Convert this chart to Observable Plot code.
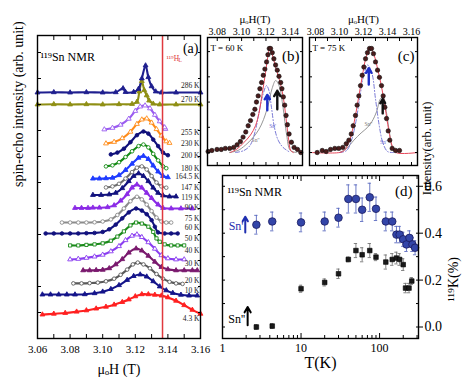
<!DOCTYPE html>
<html><head><meta charset="utf-8">
<script src="https://cdn.jsdelivr.net/npm/d3@7"></script>
<script src="https://cdn.jsdelivr.net/npm/@observablehq/plot@0.6"></script>
<style>
html,body{margin:0;padding:0;background:#fff;}
#fig{position:relative;width:474px;height:389px;overflow:hidden;background:#fff;}
#fig svg{position:absolute;max-width:none;background:transparent;overflow:visible;}
</style></head><body><div id="fig"></div>
<script>
// ---------- Panel (a): 119Sn NMR spectra (field T, stacked intensity arb.) ----------
const specNames = ["286 K","270 K","255 K","230 K","200 K","180 K","164.5 K","147 K","119 K","90 K","75 K","60 K","50 K","40 K","30 K","20 K","10 K","4.3 K"];
const specLabelLevel = [9.73,9.19,7.92,7.5,7.04,6.54,6.23,5.81,5.42,5.04,4.62,4.27,3.85,3.38,2.88,2.23,1.85,0.77];
const s286 = [[3.06,9.46],[3.07,9.47],[3.08,9.46],[3.09,9.47],[3.10,9.46],[3.108,9.47],[3.1125,9.62],[3.114,9.48],[3.119,9.48],[3.122,9.6],[3.124,10.0],[3.1263,10.5],[3.128,10.05],[3.130,9.7],[3.1325,9.5],[3.136,9.46],[3.145,9.46],[3.16,9.46]];
const s270 = [[3.06,9.0],[3.07,9.01],[3.08,9.0],[3.09,9.01],[3.10,9.0],[3.11,9.01],[3.118,9.02],[3.121,9.1],[3.1225,9.5],[3.124,9.9],[3.1255,9.55],[3.127,9.35],[3.1285,9.15],[3.131,9.03],[3.135,9.0],[3.145,9.0],[3.16,9.0]];
const s255 = [[3.101,8.04],[3.106,8.1],[3.111,8.22],[3.116,8.45],[3.120,8.75],[3.123,8.92],[3.126,8.96],[3.129,8.85],[3.132,8.6],[3.135,8.35],[3.138,8.12],[3.1385,8.06]];
const s230 = [[3.102,7.5],[3.107,7.56],[3.112,7.7],[3.117,7.95],[3.121,8.25],[3.124,8.42],[3.127,8.46],[3.130,8.3],[3.133,8.05],[3.136,7.8],[3.139,7.58],[3.141,7.52]];
const s200 = [[3.105,7.08],[3.109,7.15],[3.113,7.3],[3.117,7.55],[3.121,7.82],[3.125,7.96],[3.128,7.88],[3.131,7.65],[3.134,7.4],[3.137,7.15],[3.140,7.05]];
const s180 = [[3.102,6.62],[3.106,6.66],[3.110,6.78],[3.114,6.98],[3.118,7.2],[3.122,7.4],[3.125,7.46],[3.128,7.35],[3.131,7.1],[3.134,6.85],[3.137,6.62],[3.139,6.55]];
const s164 = [[3.094,6.15],[3.098,6.15],[3.102,6.16],[3.106,6.18],[3.110,6.28],[3.114,6.48],[3.118,6.72],[3.122,6.95],[3.125,7.02],[3.128,6.9],[3.131,6.65],[3.134,6.42],[3.137,6.25],[3.140,6.2]];
const s147 = [[3.102,5.81],[3.106,5.85],[3.110,5.95],[3.114,6.15],[3.118,6.4],[3.121,6.57],[3.124,6.62],[3.127,6.5],[3.130,6.25],[3.133,6.0],[3.136,5.85],[3.139,5.8]];
const s119 = [[3.094,5.52],[3.099,5.52],[3.104,5.54],[3.108,5.6],[3.112,5.78],[3.116,6.05],[3.119,6.25],[3.122,6.35],[3.125,6.25],[3.128,6.05],[3.131,5.8],[3.134,5.6],[3.137,5.5],[3.141,5.46],[3.145,5.46]];
const s90 = [[3.083,5.02],[3.087,5.02],[3.091,5.02],[3.094,5.03],[3.098,5.03],[3.103,5.05],[3.107,5.12],[3.111,5.3],[3.115,5.55],[3.118,5.8],[3.121,5.92],[3.124,5.8],[3.127,5.6],[3.130,5.4],[3.134,5.15],[3.137,5.02],[3.142,5.0],[3.148,5.0],[3.155,5.0]];
const s75 = [[3.075,4.46],[3.080,4.46],[3.085,4.46],[3.090,4.46],[3.095,4.47],[3.100,4.5],[3.105,4.58],[3.109,4.75],[3.113,5.0],[3.117,5.28],[3.121,5.45],[3.124,5.35],[3.127,5.15],[3.130,4.9],[3.133,4.65],[3.136,4.5],[3.139,4.46],[3.142,4.46]];
const s60 = [[3.065,4.04],[3.070,4.04],[3.075,4.04],[3.080,4.04],[3.085,4.04],[3.090,4.05],[3.095,4.06],[3.100,4.1],[3.104,4.2],[3.108,4.38],[3.112,4.62],[3.116,4.85],[3.1205,5.0],[3.124,4.92],[3.127,4.78],[3.130,4.55],[3.132,4.3],[3.134,4.08],[3.138,4.04],[3.142,4.04],[3.146,4.04]];
const s50 = [[3.080,3.58],[3.085,3.58],[3.090,3.6],[3.095,3.62],[3.100,3.66],[3.105,3.76],[3.109,3.92],[3.113,4.12],[3.117,4.35],[3.1205,4.46],[3.124,4.42],[3.128,4.3],[3.131,4.1],[3.133,3.85],[3.135,3.72],[3.138,3.62],[3.142,3.58],[3.146,3.58],[3.150,3.58]];
const s40 = [[3.080,3.04],[3.085,3.06],[3.090,3.1],[3.095,3.15],[3.100,3.22],[3.105,3.35],[3.110,3.55],[3.114,3.78],[3.118,3.95],[3.121,4.0],[3.124,3.9],[3.128,3.7],[3.132,3.45],[3.136,3.2],[3.140,3.08],[3.145,3.04],[3.150,3.04]];
const s30 = [[3.088,2.62],[3.092,2.62],[3.096,2.63],[3.100,2.64],[3.104,2.7],[3.108,2.85],[3.112,3.05],[3.116,3.3],[3.1205,3.46],[3.124,3.38],[3.128,3.18],[3.132,2.95],[3.136,2.75],[3.140,2.66],[3.145,2.62],[3.150,2.62],[3.155,2.62],[3.158,2.62]];
const s20 = [[3.082,2.12],[3.087,2.12],[3.092,2.13],[3.097,2.15],[3.102,2.2],[3.107,2.3],[3.111,2.45],[3.115,2.65],[3.1185,2.85],[3.1215,2.92],[3.125,2.85],[3.129,2.7],[3.133,2.48],[3.137,2.3],[3.141,2.18],[3.145,2.12],[3.149,2.1]];
const s10 = [[3.063,1.69],[3.068,1.69],[3.073,1.69],[3.078,1.69],[3.083,1.69],[3.089,1.7],[3.095,1.74],[3.100,1.8],[3.105,1.9],[3.110,2.05],[3.115,2.25],[3.119,2.4],[3.123,2.46],[3.127,2.38],[3.131,2.2],[3.135,2.0],[3.139,1.85],[3.143,1.75],[3.148,1.68],[3.153,1.65],[3.158,1.65]];
const s4 = [[3.063,0.92],[3.070,0.95],[3.077,0.98],[3.084,1.03],[3.090,1.08],[3.096,1.15],[3.102,1.22],[3.107,1.3],[3.112,1.4],[3.116,1.5],[3.120,1.62],[3.124,1.7],[3.128,1.7],[3.132,1.68],[3.136,1.65],[3.140,1.58],[3.145,1.45],[3.150,1.28],[3.155,1.1],[3.16,0.95]];
const hLField = [3.1367];
const xTicksA = [3.06,3.08,3.10,3.12,3.14,3.16];
const xMinorA = [3.06,3.07,3.08,3.09,3.10,3.11,3.12,3.13,3.14,3.15,3.16];
const yTicksA = [1,2,3,4,5,6,7,8,9,10,11];

// ---------- Panels (b), (c): lineshape fits ----------
const b60dots = [[3.0725,-0.01],[3.0756,0.0],[3.0798,0.01],[3.0833,0.01],[3.0866,0.02],[3.0902,0.02],[3.0935,0.03],[3.0963,0.055],[3.099,0.087],[3.1012,0.13],[3.1034,0.18],[3.1054,0.24],[3.1073,0.29],[3.1092,0.35],[3.1109,0.40],[3.1122,0.47],[3.1136,0.53],[3.115,0.60],[3.1164,0.66],[3.1178,0.73],[3.1191,0.79],[3.1205,0.86],[3.1216,0.93],[3.1227,0.99],[3.1238,0.99],[3.1252,0.95],[3.1265,0.89],[3.1279,0.83],[3.1293,0.78],[3.1307,0.72],[3.1321,0.66],[3.1331,0.60],[3.1343,0.52],[3.1354,0.44],[3.1365,0.34],[3.1376,0.25],[3.139,0.16],[3.1409,0.08],[3.1431,0.03],[3.1459,0.01],[3.1486,-0.02]];
const b60fit = [[3.0907,-0.02],[3.0963,0.015],[3.1017,0.075],[3.1073,0.15],[3.1114,0.24],[3.1142,0.36],[3.1169,0.55],[3.1197,0.76],[3.1219,0.94],[3.123,0.99],[3.1252,0.93],[3.1279,0.81],[3.1307,0.70],[3.1334,0.57],[3.1354,0.42],[3.137,0.26],[3.1387,0.10],[3.1403,0.0],[3.1425,-0.02]];
const b60sn1 = [[3.095,-0.02],[3.102,0.0],[3.107,0.05],[3.111,0.18],[3.114,0.35],[3.117,0.52],[3.1205,0.63],[3.1225,0.58],[3.1245,0.42],[3.127,0.22],[3.130,0.1],[3.134,0.03],[3.140,-0.02]];
const b60sn2 = [[3.090,-0.02],[3.097,0.0],[3.103,0.05],[3.109,0.12],[3.114,0.2],[3.118,0.3],[3.122,0.45],[3.125,0.6],[3.128,0.68],[3.131,0.62],[3.134,0.42],[3.137,0.15],[3.140,0.0],[3.145,-0.02]];
const c75dots = [[3.0814,-0.02],[3.0856,0.0],[3.0889,-0.01],[3.0925,0.01],[3.0961,0.02],[3.0994,0.02],[3.1028,0.03],[3.1056,0.065],[3.1078,0.1],[3.1098,0.16],[3.1114,0.24],[3.1133,0.34],[3.1147,0.44],[3.1161,0.53],[3.1175,0.63],[3.1189,0.73],[3.1203,0.81],[3.1217,0.89],[3.1233,0.95],[3.125,0.99],[3.1267,0.99],[3.1283,0.94],[3.13,0.86],[3.1317,0.78],[3.1333,0.71],[3.135,0.63],[3.1364,0.53],[3.1378,0.42],[3.1392,0.31],[3.1406,0.19],[3.1419,0.1],[3.1439,0.02],[3.1467,0.0],[3.15,0.0]];
const c75fit = [[3.076,-0.02],[3.100,-0.02],[3.104,0.0],[3.107,0.06],[3.110,0.16],[3.113,0.32],[3.116,0.52],[3.119,0.72],[3.122,0.9],[3.1255,1.0],[3.129,0.92],[3.132,0.78],[3.135,0.62],[3.138,0.42],[3.141,0.2],[3.144,0.04],[3.147,-0.02],[3.165,-0.02]];
const c75sn1 = [[3.100,-0.02],[3.106,0.0],[3.110,0.1],[3.114,0.3],[3.117,0.52],[3.120,0.72],[3.1235,0.83],[3.127,0.75],[3.130,0.5],[3.133,0.25],[3.136,0.08],[3.140,-0.01],[3.145,-0.02]];
const c75sn2 = [[3.100,-0.02],[3.106,0.02],[3.112,0.1],[3.118,0.17],[3.123,0.22],[3.127,0.28],[3.131,0.38],[3.134,0.5],[3.1365,0.52],[3.139,0.38],[3.142,0.15],[3.145,0.0],[3.150,-0.02]];
const arrowsB = [{f:3.1211,y1:0.39,y2:0.54,kind:"Sn'"},{f:3.1293,y1:0.40,y2:0.58,kind:"Sn''"}];
const arrowsC = [{f:3.1244,y1:0.64,y2:0.80,kind:"Sn'"},{f:3.136,y1:0.36,y2:0.50,kind:"Sn''"}];
const tagsB = [{f:3.1254,u:0.24,t:"Sn'"},{f:3.1114,u:0.10,t:"Sn''"}];
const tagsC = [{f:3.1365,u:0.08,t:"Sn'"},{f:3.124,u:0.25,t:"Sn''"}];
const topTicksB = [3.08,3.10,3.12,3.14];
const minorB = [3.08,3.09,3.10,3.11,3.12,3.13,3.14];
const topTicksC = [3.08,3.10,3.12,3.14,3.16];
const minorC = [3.08,3.09,3.10,3.11,3.12,3.13,3.14,3.15,3.16];
const yTicksBC = [-0.02,0.225,0.47,0.715,0.96];

// ---------- Panel (d): Knight shift vs T ----------
const T_sn1 = [2.7,4.3,10,20,30,40,50,60,75,90,120,145,164,180,200,220,240,262,283];
const K_sn1 = [0.436,0.45,0.446,0.45,0.466,0.546,0.546,0.50,0.553,0.504,0.45,0.45,0.394,0.394,0.374,0.352,0.38,0.352,0.338];
const E_sn1 = [0.04,0.04,0.04,0.04,0.04,0.06,0.06,0.05,0.06,0.05,0.04,0.04,0.035,0.035,0.03,0.03,0.03,0.03,0.03];
const T_sn2 = [2.7,4.3,10,20,30,40,50,60,75,90,120,145,164,180,200,214,237,257];
const K_sn2 = [0.0,0.004,0.163,0.19,0.227,0.288,0.326,0.308,0.326,0.298,0.277,0.288,0.294,0.288,0.266,0.166,0.166,0.196];
const E_sn2 = [0.01,0.01,0.015,0.015,0.02,0.01,0.03,0.03,0.03,0.015,0.03,0.025,0.025,0.025,0.025,0.02,0.02,0.015];
const xMajorD = [1,10,100];
const xMinorD = [2,3,4,5,6,7,8,9,20,30,40,50,60,70,80,90,200,300];
const yTicksD = [0,0.2,0.4,0.6];
const yMinorD = [0,0.1,0.2,0.3,0.4,0.5,0.6];
const arrowsD = [{T:1.95,y1:0.403,y2:0.47,kind:"Sn'"},{T:2.09,y1:0.007,y2:0.085,kind:"Sn''"}];
const tagsD = [{T:1.85,K:0.43,t:"Sn'"},{T:1.95,K:0.032,t:"Sn''"}];

// ---------- styles ----------
const serif = '"Liberation Serif","Times New Roman",serif';
const specColors = ["#1f1f8f","#8f8f14","#9a5cf0","#ff8c1a","#10107a","#138a13","#1f3cff","#6e6e6e","#12127e","#8b2be6","#8c8c8c","#12127e","#1a8a1a","#8a3df0","#7a1a6e","#5a5a5a","#14148a","#ff2020"];
const specSymbols = ["triangle","triangle","triangle","triangle","circle","circle","triangle","circle","triangle","triangle","circle","circle","square","triangle","triangle","circle","triangle","triangle"];
const specOpen = [false,false,true,true,false,true,false,true,false,false,true,false,true,true,false,true,false,false];
const specData = [s286,s270,s255,s230,s200,s180,s164,s147,s119,s90,s75,s60,s50,s40,s30,s20,s10,s4];
const fig = document.getElementById("fig");
function sty(fs){ return {fontFamily: serif, fontSize: fs+"px", background:"transparent", overflow:"visible", color:"#000"}; }
function place(svg, left, top){ svg.style.left = left+"px"; svg.style.top = top+"px"; fig.appendChild(svg); }
const blank = () => "";

const rowsA = specData.flatMap((pts,i) => pts.map(([f,v]) => ({T: specNames[i], f, v, c: specColors[i], fc: specOpen[i] ? "white" : specColors[i], sym: specSymbols[i]}))).reverse();
const labA = specNames.map((n,i) => ({n, y: specLabelLevel[i]}));

const plotA = Plot.plot({
  width: 205, height: 389, marginLeft: 37, marginRight: 5, marginTop: 35, marginBottom: 51,
  x: {domain: [3.06, 3.16], axis: null, label: null}, y: {domain: [0, 11.654], axis: null, label: null},
  style: sty(11),
  marks: [
    Plot.line(rowsA, {x: "f", y: "v", z: "T", stroke: "c", strokeWidth: 2.1, curve: "catmull-rom"}),
    Plot.dot(rowsA, {x: "f", y: "v", r: 1.8, stroke: "c", fill: "fc", symbol: "sym", strokeWidth: 0.9}),
    Plot.ruleX(hLField, {stroke: "#e0393e", strokeWidth: 1.5}),
    Plot.text(labA, {y: "y", text: "n", frameAnchor: "right", dx: -1, textAnchor: "end", fontSize: 7.5, fill: "#222"}),
    Plot.text(["¹¹⁹Sn NMR"], {frameAnchor: "top-left", dx: 3, dy: 17, textAnchor: "start", fontSize: 12}),
    Plot.text(["(a)"], {frameAnchor: "top-right", dx: -2, dy: 8, textAnchor: "end", fontSize: 14}),
    Plot.text(hLField, {x: d => d, frameAnchor: "top", dx: 4, dy: 20, text: () => "¹¹⁹H", textAnchor: "start", fill: "#e0393e", fontSize: 7.5}),
    Plot.text(hLField, {x: d => d, frameAnchor: "top", dx: 16, dy: 23, text: () => "L", textAnchor: "start", fill: "#e0393e", fontSize: 5.5}),
    Plot.frame({stroke: "#000", strokeWidth: 1.4}),
    Plot.axisX(xTicksA, {tickSize: 0, tickPadding: 7, tickFormat: d3.format(".2f"), fontSize: 11, label: null}),
    Plot.axisX(xMinorA, {tickSize: -4, tickFormat: blank, label: null}),
    Plot.axisX(xMinorA, {anchor: "top", tickSize: -4, tickFormat: blank, label: null}),
    Plot.axisY(yTicksA, {tickSize: -4, tickFormat: blank, label: null}),
    Plot.axisY(yTicksA, {anchor: "right", tickSize: -3, tickFormat: blank, label: null}),
    Plot.text(["μₒH (T)"], {frameAnchor: "bottom", dy: 35, fontSize: 14}),
    Plot.text(["spin-echo intensity (arb. unit)"], {frameAnchor: "left", rotate: -90, dx: -19, fontSize: 14})
  ]
});
place(plotA, 0, 0);

function pairRows(arr){ return arr.map(([f,u]) => ({f, u})); }
function lineshape(opts){
  const {dots, fit, sn1, sn2, arrows, tags, xdom, top, minor, tLabel, pLabel, left, width, mR, rightLabel} = opts;
  const marks = [
    Plot.line(pairRows(sn2), {x: "f", y: "u", stroke: "#8a8a8a", strokeWidth: 0.9, curve: "catmull-rom"}),
    Plot.line(pairRows(sn1), {x: "f", y: "u", stroke: "#6a6ad0", strokeWidth: 0.9, strokeDasharray: "4,2,1,2", curve: "catmull-rom"}),
    Plot.line(pairRows(fit), {x: "f", y: "u", stroke: "#e8485a", strokeWidth: 1, curve: "catmull-rom"}),
    Plot.dot(pairRows(dots), {x: "f", y: "u", r: 2.2, fill: "#4a1c1c", stroke: "#111", strokeWidth: 0.6}),
    Plot.arrow(arrows, {x1: "f", x2: "f", y1: "y1", y2: "y2", stroke: d => d.kind === "Sn'" ? "#1f2fc8" : "#111", strokeWidth: 2.4, headLength: 5}),
    Plot.text(tags, {x: "f", y: "u", text: "t", fontSize: 5.5, fill: d => d.t === "Sn'" ? "#6a6ad0" : "#777"}),
    Plot.text([tLabel], {frameAnchor: "top-left", dx: 3, dy: 7, textAnchor: "start", fontSize: 9}),
    Plot.text([pLabel], {frameAnchor: "top-right", dx: -3, dy: 13, textAnchor: "end", fontSize: 15}),
    Plot.frame({stroke: "#000", strokeWidth: 1.4}),
    Plot.axisX(top, {anchor: "top", tickSize: 0, tickPadding: 3, tickFormat: d3.format(".2f"), fontSize: 10, label: null}),
    Plot.axisX(minor, {anchor: "top", tickSize: -3, tickFormat: blank, label: null}),
    Plot.axisX(minor, {anchor: "bottom", tickSize: -3, tickFormat: blank, label: null}),
    Plot.axisY(yTicksBC, {anchor: "left", tickSize: -3, tickFormat: blank, label: null}),
    Plot.axisY(yTicksBC, {anchor: "right", tickSize: -3, tickFormat: blank, label: null}),
    Plot.text(["μₒH(T)"], {frameAnchor: "top", dy: -22, fontSize: 11})
  ];
  if (rightLabel) marks.push(Plot.text([rightLabel], {frameAnchor: "right", rotate: -90, dx: 9, fontSize: 12.5}));
  const p = Plot.plot({
    width, height: 175, marginLeft: 7, marginRight: mR, marginTop: 37, marginBottom: 10,
    x: {domain: xdom, axis: null, label: null}, y: {domain: [-0.146, 1.097], axis: null, label: null},
    style: sty(10), marks
  });
  place(p, left, 0);
}
lineshape({dots: b60dots, fit: b60fit, sn1: b60sn1, sn2: b60sn2, arrows: arrowsB, tags: tagsB, xdom: [3.072, 3.150], top: topTicksB, minor: minorB, tLabel: "T = 60 K", pLabel: "(b)", left: 200, width: 115, mR: 13});
lineshape({dots: c75dots, fit: c75fit, sn1: c75sn1, sn2: c75sn2, arrows: arrowsC, tags: tagsC, xdom: [3.075, 3.165], top: topTicksC, minor: minorC, tLabel: "T = 75 K", pLabel: "(c)", left: 302, width: 172, mR: 57, rightLabel: "Intensity(arb. unit)"});

const sn1 = T_sn1.map((T,i) => ({T, K: K_sn1[i], e: E_sn1[i]}));
const sn2 = T_sn2.map((T,i) => ({T, K: K_sn2[i], e: E_sn2[i]}));
const plotD = Plot.plot({
  width: 284, height: 224, marginLeft: 32, marginRight: 56, marginTop: 10, marginBottom: 51,
  x: {type: "log", domain: [1, 313], axis: null, label: null}, y: {domain: [-0.049, 0.646], axis: null, label: null},
  style: sty(12),
  marks: [
    Plot.ruleX(sn1, {x: "T", y1: d => d.K - d.e, y2: d => d.K + d.e, stroke: "#5a6ac0", strokeWidth: 0.9}),
    Plot.ruleY(sn1, {y: d => d.K - d.e, x1: d => d.T / 1.05, x2: d => d.T * 1.05, stroke: "#5a6ac0", strokeWidth: 0.9}),
    Plot.ruleY(sn1, {y: d => d.K + d.e, x1: d => d.T / 1.05, x2: d => d.T * 1.05, stroke: "#5a6ac0", strokeWidth: 0.9}),
    Plot.ruleX(sn2, {x: "T", y1: d => d.K - d.e, y2: d => d.K + d.e, stroke: "#777", strokeWidth: 0.9}),
    Plot.ruleY(sn2, {y: d => d.K - d.e, x1: d => d.T / 1.05, x2: d => d.T * 1.05, stroke: "#777", strokeWidth: 0.9}),
    Plot.ruleY(sn2, {y: d => d.K + d.e, x1: d => d.T / 1.05, x2: d => d.T * 1.05, stroke: "#777", strokeWidth: 0.9}),
    Plot.dot(sn1, {x: "T", y: "K", r: 3.8, fill: "#3345a8", stroke: "#1a1a60", strokeWidth: 0.8}),
    Plot.dot(sn2, {x: "T", y: "K", r: 2.6, symbol: "square", fill: "#1a1a1a", stroke: "#000", strokeWidth: 0.6}),
    Plot.arrow(arrowsD, {x1: "T", x2: "T", y1: "y1", y2: "y2", stroke: d => d.kind === "Sn'" ? "#1f2fb0" : "#000", strokeWidth: 2, headLength: 6}),
    Plot.text(tagsD, {x: "T", y: "K", text: "t", textAnchor: "end", fontSize: 12, fill: d => d.t === "Sn'" ? "#1f2fb0" : "#000"}),
    Plot.text(["¹¹⁹Sn NMR"], {frameAnchor: "top-left", dx: 5, dy: 12, textAnchor: "start", fontSize: 12}),
    Plot.text(["(d)"], {frameAnchor: "top-right", dx: -6, dy: 10, textAnchor: "end", fontSize: 15}),
    Plot.frame({stroke: "#000", strokeWidth: 1.4}),
    Plot.axisX(xMajorD, {tickSize: 0, tickPadding: 5, tickFormat: d => String(d), fontSize: 12, label: null}),
    Plot.axisX(xMajorD, {tickSize: -5, tickFormat: blank, label: null}),
    Plot.axisX(xMinorD, {tickSize: -3, tickFormat: blank, label: null}),
    Plot.axisX(xMajorD, {anchor: "top", tickSize: -5, tickFormat: blank, label: null}),
    Plot.axisX(xMinorD, {anchor: "top", tickSize: -3, tickFormat: blank, label: null}),
    Plot.axisY(yTicksD, {anchor: "right", tickSize: 4, tickPadding: 2, tickFormat: d3.format(".1f"), fontSize: 14, label: null}),
    Plot.axisY(yMinorD, {anchor: "right", tickSize: -3, tickFormat: blank, label: null}),
    Plot.axisY(yMinorD, {anchor: "left", tickSize: -3, tickFormat: blank, label: null}),
    Plot.text(["T(K)"], {frameAnchor: "bottom", dy: 29, fontSize: 16}),
    Plot.text(["¹¹⁹K(%)"], {frameAnchor: "right", rotate: -90, dx: 35, fontSize: 14})
  ]
});
place(plotD, 190, 165);
</script></body></html>
